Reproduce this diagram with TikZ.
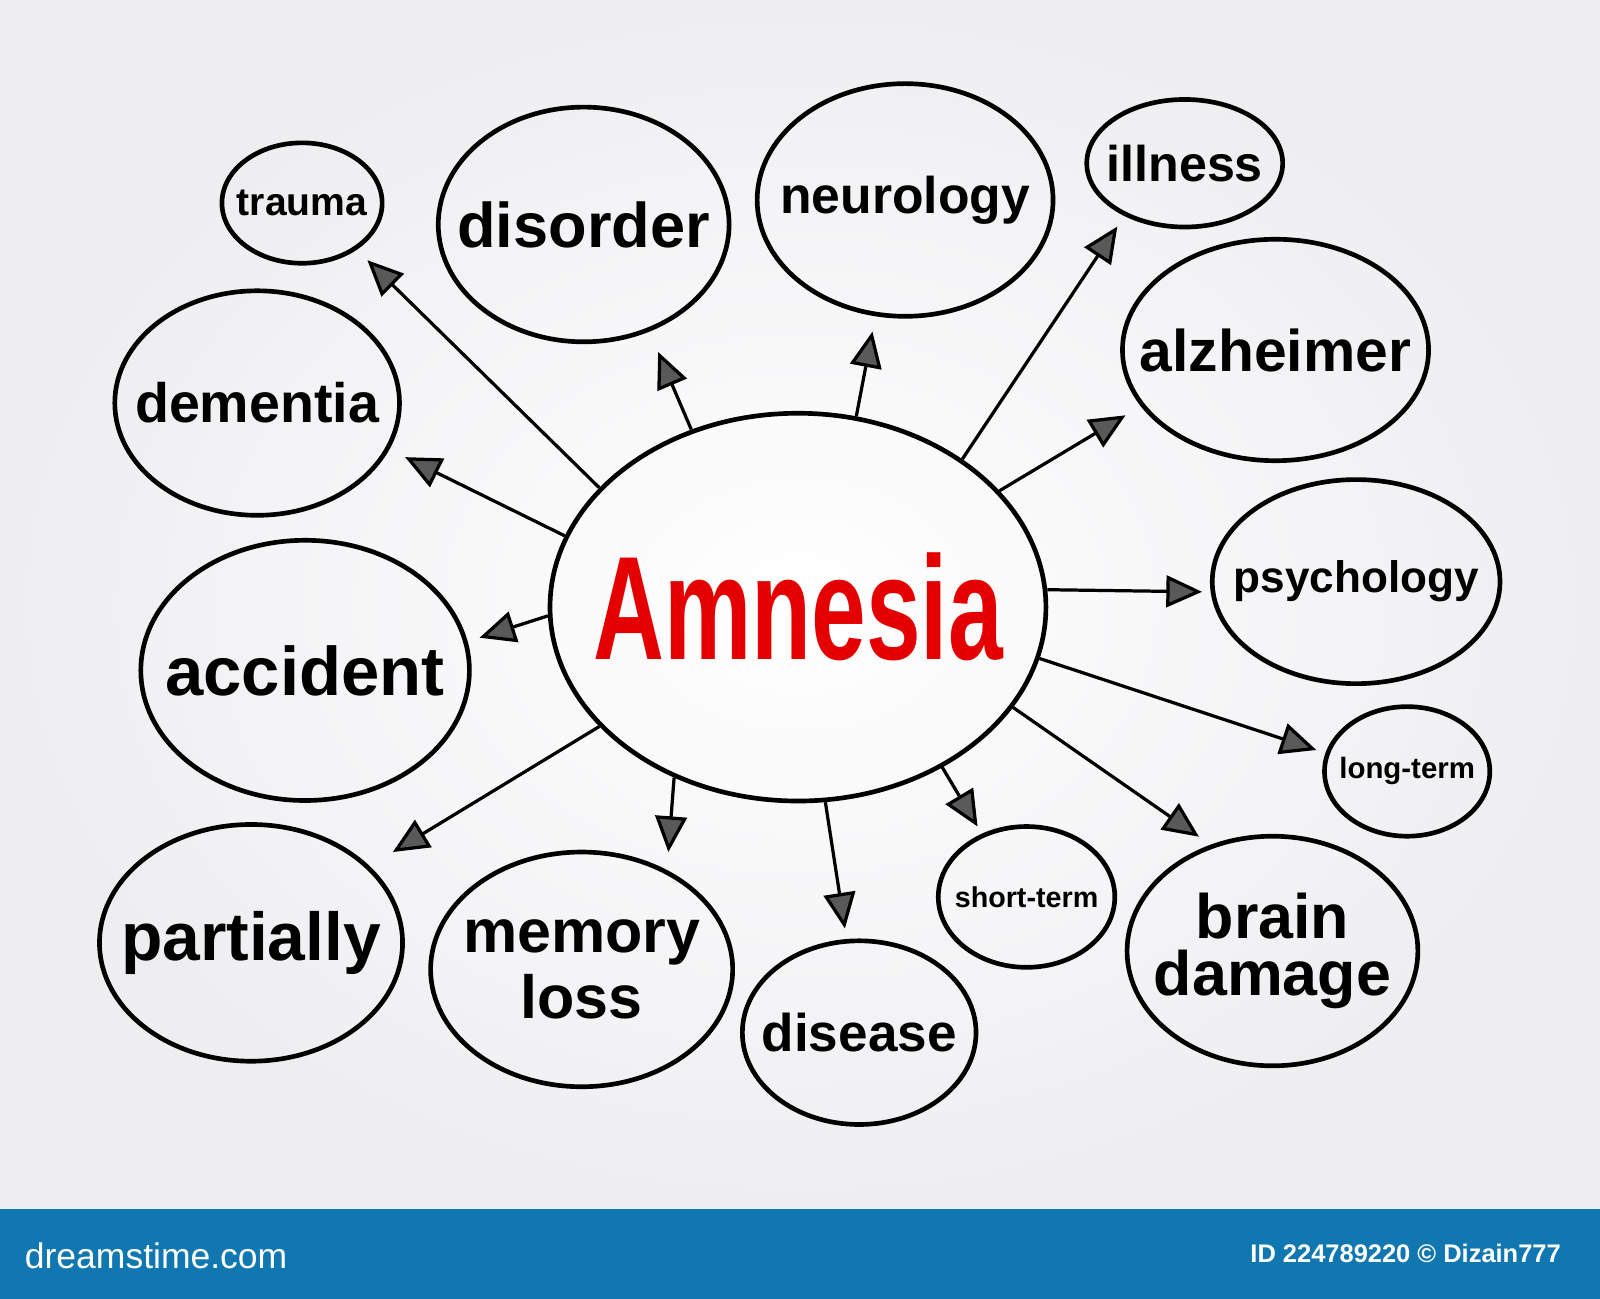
\documentclass[tikz,border=0pt]{standalone}
\usepackage{fontspec}
\setmainfont{Liberation Sans}
\usepackage{tikz}
\usetikzlibrary{positioning,shapes.geometric,arrows.meta}
\definecolor{amred}{RGB}{228,0,0}
\definecolor{barblue}{RGB}{16,119,176}
\definecolor{bggray}{RGB}{238,238,241}
\newcommand{\fsz}[2]{\fontsize{#1}{#2}\selectfont\bfseries}

\begin{document}
\begin{tikzpicture}
\tikzstyle{bubble}=[ellipse,draw=black,line width=1.3pt,inner sep=0pt]
\tikzstyle{arr}=[line width=.9pt,-{Triangle[length=3.5mm,width=3.1mm,fill=black!65]}]
    \useasboundingbox (0,0) rectangle (15.68,12.73);
    \shade[inner color=white,outer color=bggray] (0,0.88) rectangle (15.68,12.73);
    \fill[barblue] (0,0) rectangle (15.68,0.88);
    % centre
    \node[bubble,minimum width=4.86cm,minimum height=3.80cm] (amn) at (7.82,6.78)
        [label={[text=amred,font=\fsz{27.4}{30}]center:\scalebox{1}[1.5]{Amnesia}}] {};
    % outer bubbles
    \node[bubble,minimum width=1.57cm,minimum height=1.18cm] (trauma) at (2.96,10.74)
        [label={[font=\fsz{10.9}{12}]center:trauma}] {};
    \node[bubble,minimum width=2.85cm,minimum height=2.30cm] (disorder) at (5.72,10.53)
        [label={[font=\fsz{17.6}{20}]center:disorder}] {};
    \node[bubble,minimum width=2.90cm,minimum height=2.28cm] (neurology) at (8.87,10.77)
        [label={[font=\fsz{14.4}{16}]center:neurology}] {};
    \node[bubble,minimum width=1.92cm,minimum height=1.25cm] (illness) at (11.61,11.13)
        [label={[font=\fsz{14}{16}]center:illness}] {};
    \node[bubble,minimum width=3.00cm,minimum height=2.17cm] (alzheimer) at (12.50,9.30)
        [label={[font=\fsz{16.4}{18}]center:alzheimer}] {};
    \node[bubble,minimum width=2.79cm,minimum height=2.20cm] (dementia) at (2.52,8.78)
        [label={[font=\fsz{15.5}{17}]center:dementia}] {};
    \node[bubble,minimum width=2.82cm,minimum height=2.00cm] (psychology) at (13.29,7.03)
        [label={[font=\fsz{12.3}{14}]center:psychology}] {};
    \node[bubble,minimum width=3.22cm,minimum height=2.55cm] (accident) at (2.99,6.16)
        [label={[font=\fsz{19.2}{21}]center:accident}] {};
    \node[bubble,minimum width=1.62cm,minimum height=1.27cm] (longterm) at (13.79,5.17)
        [label={[font=\fsz{8.2}{9}]center:long-term}] {};
    \node[bubble,minimum width=2.97cm,minimum height=2.32cm] (partially) at (2.46,3.49)
        [label={[font=\fsz{18.9}{21}]center:partially}] {};
    \node[bubble,minimum width=2.96cm,minimum height=2.30cm] (memory) at (5.70,3.23)
        [label={[align=center,font=\fsz{17}{18.6}]center:memory\\loss}] {};
    \node[bubble,minimum width=2.29cm,minimum height=1.80cm] (disease) at (8.42,2.61)
        [label={[font=\fsz{14.8}{16}]center:disease}] {};
    \node[bubble,minimum width=1.73cm,minimum height=1.38cm] (shortterm) at (10.06,3.94)
        [label={[font=\fsz{8}{9}]center:short-term}] {};
    \node[bubble,minimum width=2.85cm,minimum height=2.25cm] (brain) at (12.47,3.41)
        [label={[align=center,font=\fsz{17.5}{16}]center:brain\\damage}] {};
    % arrow tips
    \coordinate (ttrauma) at (3.60,10.18);
    \coordinate (tdisorder) at (6.45,9.28);
    \coordinate (tneurology) at (8.55,9.48);
    \coordinate (tillness) at (10.95,10.51);
    \coordinate (talzheimer) at (11.03,8.66);
    \coordinate (tdementia) at (3.97,8.25);
    \coordinate (tpsychology) at (11.78,6.93);
    \coordinate (taccident) at (4.70,6.48);
    \coordinate (tlongterm) at (12.90,5.38);
    \coordinate (tpartially) at (3.85,4.38);
    \coordinate (tmemory) at (6.55,4.38);
    \coordinate (tdisease) at (8.28,3.63);
    \coordinate (tshortterm) at (9.58,4.63);
    \coordinate (tbrain) at (11.75,4.53);
    \draw[arr] (amn.149) to (ttrauma);
    \draw[arr] (amn.121) to (tdisorder);
    \draw[arr] (amn.73) to (tneurology);
    \draw[arr] (amn.42) to (tillness);
    \draw[arr] (amn.30) to (talzheimer);
    \draw[arr] (amn.163) to (tdementia);
    \draw[arr] (amn.4) to (tpsychology);
    \draw[arr] (amn.182) to (taccident);
    \draw[arr] (amn.-12) to (tlongterm);
    \draw[arr] (amn.211) to (tpartially);
    \draw[arr] (amn.234) to (tmemory);
    \draw[arr] (amn.278) to (tdisease);
    \draw[arr] (amn.312) to (tshortterm);
    \draw[arr] (amn.335) to (tbrain);
    % footer
    \node[anchor=west,text=white,font=\fontsize{9.9}{11}\selectfont] (site) at (0.12,0.42) {dreamstime.com};
    \node[anchor=east,text=white,font=\fontsize{7.1}{9}\selectfont\bfseries] (imgid) at (15.42,0.45) {ID 224789220 \textcopyright{} Dizain777};
\end{tikzpicture}
\end{document}
